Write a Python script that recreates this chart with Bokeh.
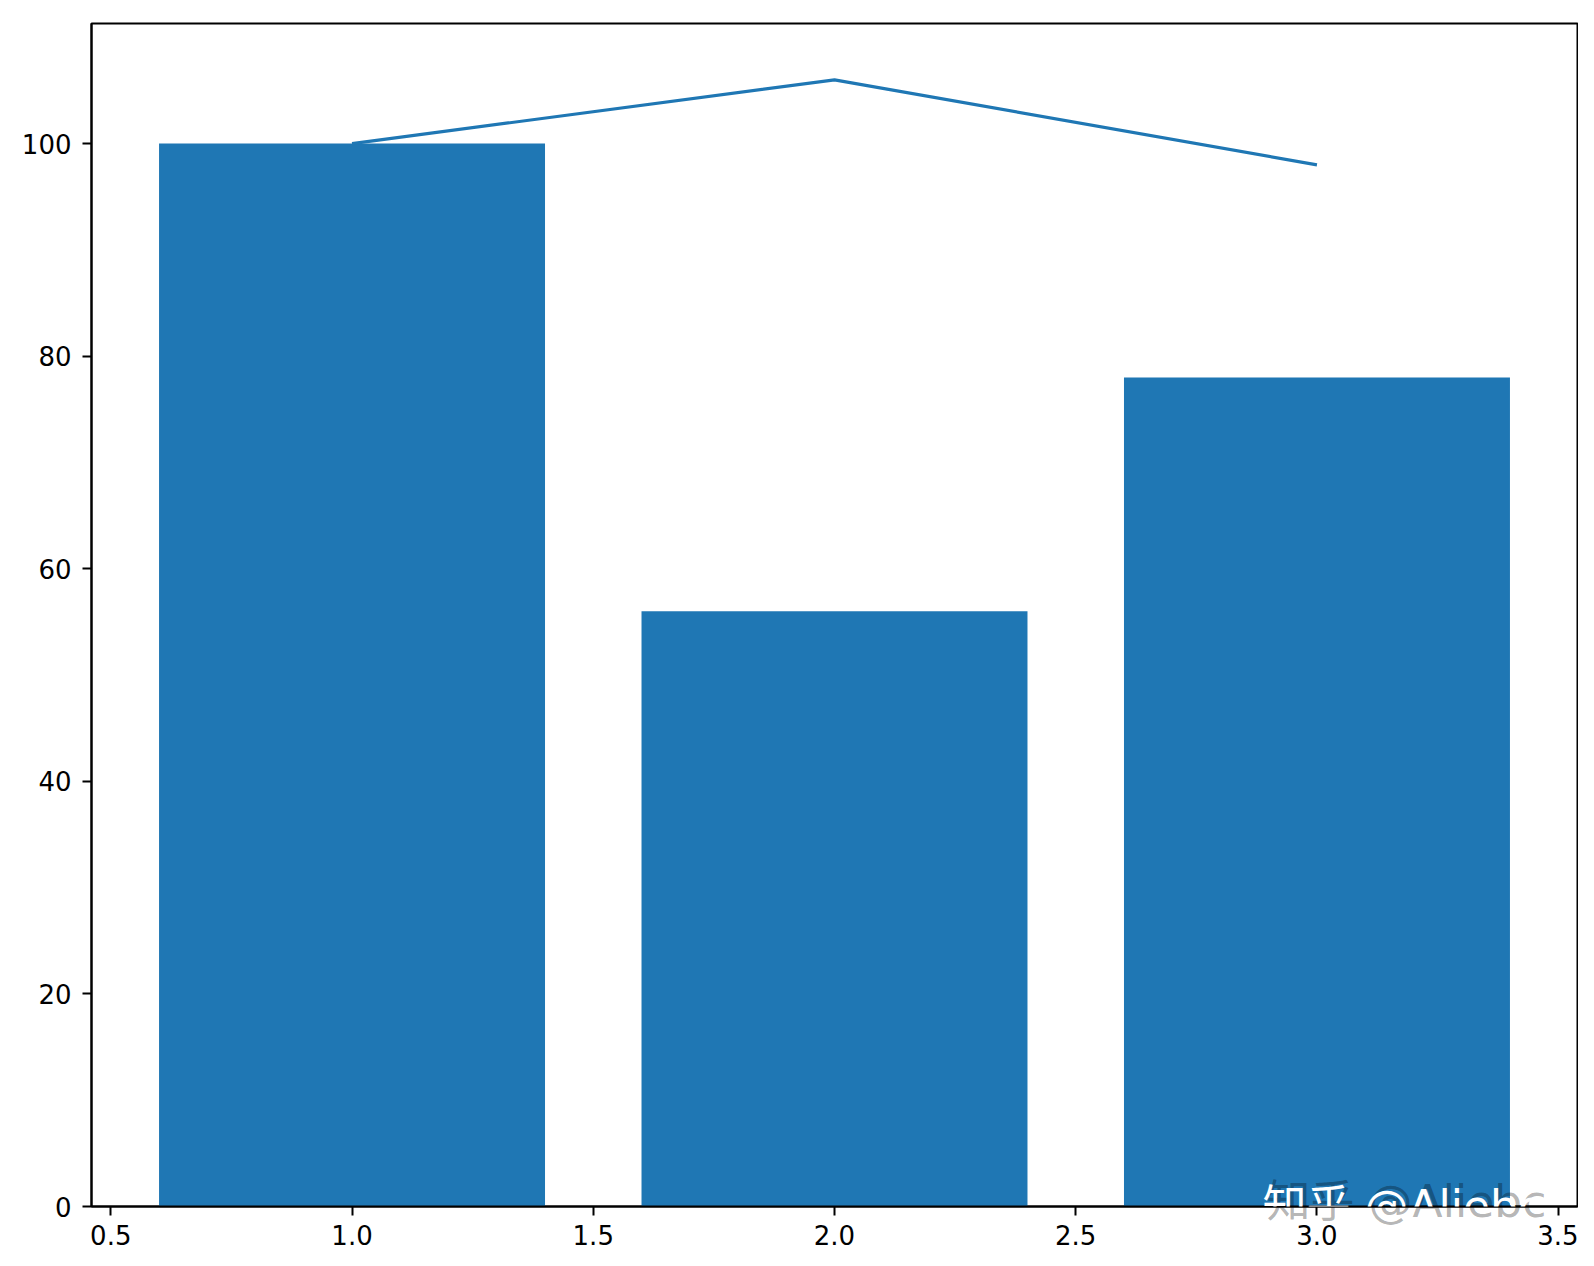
from bokeh.plotting import figure
from bokeh.models import Range1d, FixedTicker, NumeralTickFormatter, Label
from bokeh.embed import file_html
from bokeh.resources import INLINE

# ---- data ----
bar_x = [1, 2, 3]
bar_values = [100, 56, 78]
line_x = [1, 2, 3]
line_values = [100, 106, 98]
x_ticks = [0.5, 1.0, 1.5, 2.0, 2.5, 3.0, 3.5]
y_ticks = [0, 20, 40, 60, 80, 100]
watermark = "知乎 @Aliebc"

BLUE = "#1f77b4"
FONT = "DejaVu Sans"
WM_FONT = "DejaVu Sans, Noto Sans CJK SC"
WM_SIZE = "44px"

p = figure(width=1578, height=1250, output_backend="svg", toolbar_location=None,
           x_range=Range1d(0.46, 3.54), y_range=Range1d(0, 111.3),
           min_border_left=91, min_border_right=1, min_border_top=23, min_border_bottom=44)

p.vbar(x=bar_x, top=bar_values, bottom=0, width=0.8, fill_color=BLUE, line_color=None)
p.line(line_x, line_values, line_color=BLUE, line_width=3.2)

p.xgrid.visible = False
p.ygrid.visible = False
p.outline_line_color = "black"
p.outline_line_width = 2
p.outline_line_alpha = 1.0
p.background_fill_color = "white"
p.border_fill_color = "white"

for ax in (p.xaxis[0], p.yaxis[0]):
    ax.axis_line_color = "black"
    ax.axis_line_width = 2
    ax.major_tick_line_color = "black"
    ax.major_tick_line_width = 2
    ax.major_tick_out = 9
    ax.major_tick_in = 0
    ax.minor_tick_line_color = None
    ax.major_label_text_font = FONT
    ax.major_label_text_font_size = "26px"
    ax.major_label_text_color = "black"

p.xaxis[0].ticker = FixedTicker(ticks=x_ticks)
p.yaxis[0].ticker = FixedTicker(ticks=y_ticks)
p.xaxis[0].formatter = NumeralTickFormatter(format="0.0")
p.yaxis[0].formatter = NumeralTickFormatter(format="0")
p.xaxis[0].major_label_standoff = 9
p.yaxis[0].major_label_standoff = 11

# watermark shadow: drawn as the (centred) x axis label so that it is not clipped
# by the frame; leading ideographic spaces push the visible text to the right.
xa = p.xaxis[0]
xa.axis_label = "\u3000" * 26 + watermark
xa.axis_label_text_font = WM_FONT
xa.axis_label_text_font_size = WM_SIZE
xa.axis_label_text_font_style = "normal"
xa.axis_label_text_color = "black"
xa.axis_label_text_alpha = 0.3
xa.axis_label_standoff = -72

# watermark text
white = Label(x=2.887, y=0, text=watermark, x_offset=0, y_offset=0,
              text_font=WM_FONT, text_font_size=WM_SIZE,
              text_color="white", text_align="left", text_baseline="alphabetic")
p.add_layout(white)

open("out.html", "w").write(file_html(p, INLINE))
